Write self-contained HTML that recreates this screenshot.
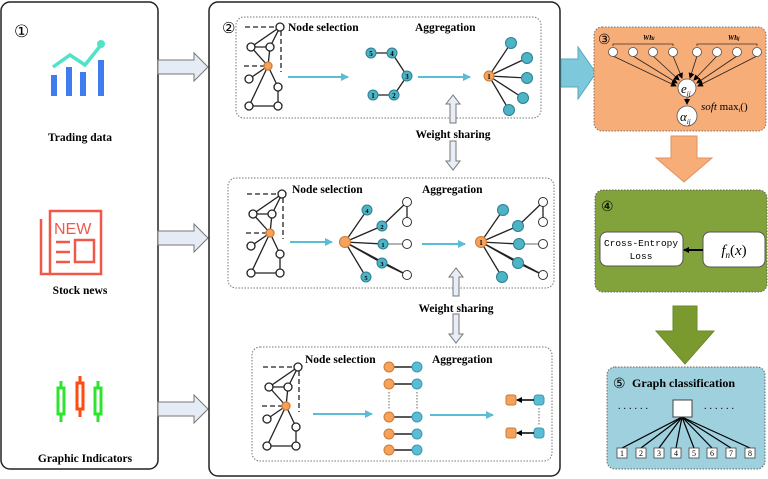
<!DOCTYPE html>
<html><head><meta charset="utf-8"><style>
html,body{margin:0;padding:0;background:#fff;}
svg{display:block;}
text{font-family:"Liberation Serif",serif;}
.b{font-weight:bold;}
</style></head><body>
<svg width="768" height="479" viewBox="0 0 768 479" xmlns="http://www.w3.org/2000/svg">
<defs>
<marker id="ab" markerWidth="8" markerHeight="8" refX="7" refY="4" orient="auto" markerUnits="userSpaceOnUse"><path d="M0,0 L8,4 L0,8 z" fill="#5bbcd6"/></marker>
<marker id="ak" markerWidth="6" markerHeight="6" refX="5" refY="3" orient="auto" markerUnits="userSpaceOnUse"><path d="M0,0 L6,3 L0,6 z" fill="#000"/></marker>
<g id="g1" stroke="#222" stroke-width="1.3" fill="#fff">
<line x1="245" y1="27" x2="278" y2="27" stroke-dasharray="5,3"/>
<line x1="281" y1="31" x2="281" y2="72" stroke-dasharray="5,3"/>
<line x1="244" y1="66" x2="264" y2="66" stroke-dasharray="5,3"/>
<line x1="280" y1="27" x2="251" y2="47"/><line x1="280" y1="27" x2="270" y2="47"/>
<line x1="251" y1="47" x2="270" y2="47"/><line x1="251" y1="47" x2="268" y2="66"/>
<line x1="270" y1="47" x2="268" y2="66"/><line x1="268" y1="66" x2="249" y2="79"/>
<line x1="268" y1="66" x2="278" y2="87"/><line x1="268" y1="66" x2="249" y2="106"/>
<line x1="278" y1="87" x2="278" y2="106"/><line x1="249" y1="106" x2="278" y2="106"/>
<circle cx="280" cy="27" r="4"/><circle cx="251" cy="47" r="4"/><circle cx="270" cy="47" r="4"/>
<circle cx="249" cy="79" r="4"/><circle cx="278" cy="87" r="4"/><circle cx="249" cy="106" r="4"/><circle cx="278" cy="106" r="4"/>
<circle cx="268" cy="66" r="4" fill="#f5a25d" stroke="#d07a30"/>
</g>
<g id="ws" fill="#e8eef8" stroke="#777" stroke-width="1">
<path d="M0,0 L-7,9 L-3,9 L-3,28 L3,28 L3,9 L7,9 z"/>
<path d="M-3,46 L3,46 L3,66 L7,66 L0,75 L-7,66 L-3,66 z"/>
</g>
<path id="ha" d="M0,-7 L36,-7 L36,-14 L50,0 L36,14 L36,7 L0,7 z" fill="#e6ecf6" stroke="#777" stroke-width="1"/>
</defs>

<rect x="1" y="2" width="157" height="467" rx="9" fill="#fff" stroke="#222" stroke-width="1.5"/>
<text x="14" y="37" font-size="17">①</text>
<g fill="#3f7cf0"><rect x="51" y="75" width="6" height="21"/><rect x="66" y="67" width="6" height="29"/><rect x="80" y="72" width="6" height="24"/><rect x="98" y="60" width="6" height="36"/></g>
<polyline points="53,67 70,55 85,65 101,45" fill="none" stroke="#4fe3c8" stroke-width="3.5"/>
<circle cx="101" cy="44" r="4" fill="#4fe3c8"/>
<text x="80" y="141" font-size="11.5" class="b" text-anchor="middle">Trading data</text>
<g fill="none" stroke="#f0584a" stroke-width="2.5">
<rect x="50" y="211" width="51" height="63"/>
<polyline points="41,219 41,274 50,274"/>
<line x1="56" y1="242" x2="70" y2="242"/><line x1="56" y1="252" x2="70" y2="252"/><line x1="56" y1="262" x2="70" y2="262"/>
<rect x="75" y="240" width="19" height="22"/>
</g>
<text x="54" y="234" font-size="16" fill="#f0584a" style="font-family:'Liberation Sans',sans-serif">NEW</text>
<text x="80" y="294" font-size="11.5" class="b" text-anchor="middle">Stock news</text>
<g stroke-width="3" fill="none">
<line x1="61" y1="381" x2="61" y2="422" stroke="#2ee52e"/><rect x="58" y="388" width="6" height="26" stroke="#2ee52e" fill="#fff"/>
<line x1="80" y1="376" x2="80" y2="417" stroke="#ff4a10"/><rect x="77" y="383" width="6" height="26" stroke="#ff4a10" fill="#fff"/>
<line x1="98" y1="381" x2="98" y2="422" stroke="#2ee52e"/><rect x="95" y="388" width="6" height="26" stroke="#2ee52e" fill="#fff"/>
</g>
<text x="85" y="462" font-size="11.5" class="b" text-anchor="middle">Graphic Indicators</text>

<use href="#ha" x="158" y="67"/><use href="#ha" x="158" y="238"/><use href="#ha" x="158" y="409"/>

<rect x="209" y="2" width="351" height="474" rx="9" fill="#fff" stroke="#222" stroke-width="1.5"/>
<text x="222" y="33" font-size="15">②</text>
<rect x="236" y="17" width="305" height="101" rx="8" fill="none" stroke="#777" stroke-dasharray="1.5,1.5"/>
<rect x="228" y="178" width="326" height="110" rx="8" fill="none" stroke="#777" stroke-dasharray="1.5,1.5"/>
<rect x="252" y="347" width="300" height="114" rx="8" fill="none" stroke="#777" stroke-dasharray="1.5,1.5"/>
<g font-size="11.5" class="b">
<text x="288" y="31">Node selection</text><text x="415" y="31">Aggregation</text>
<text x="292" y="193">Node selection</text><text x="422" y="193">Aggregation</text>
<text x="305" y="363">Node selection</text><text x="432" y="363">Aggregation</text>
<text x="453" y="138" text-anchor="middle">Weight sharing</text>
<text x="456" y="312" text-anchor="middle">Weight sharing</text>
</g>
<use href="#ws" x="453" y="95"/>
<use href="#ws" x="456" y="268"/>
<use href="#g1"/>
<use href="#g1" x="2" y="167"/>
<use href="#g1" x="18" y="340"/>
<g stroke="#5bbcd6" stroke-width="2" marker-end="url(#ab)">
<line x1="288" y1="77" x2="348" y2="77"/><line x1="418" y1="77" x2="470" y2="77"/>
<line x1="290" y1="242" x2="332" y2="242"/><line x1="422" y1="244" x2="465" y2="244"/>
<line x1="313" y1="414" x2="372" y2="414"/><line x1="430" y1="415" x2="493" y2="415"/>
</g>
<g stroke="#222" stroke-width="1.3">
<line x1="371" y1="53" x2="392" y2="53"/><line x1="392" y1="53" x2="407" y2="76"/><line x1="407" y1="76" x2="394" y2="95"/><line x1="394" y1="95" x2="373" y2="95"/>
<line x1="489" y1="76" x2="511" y2="43"/><line x1="489" y1="76" x2="527" y2="58"/><line x1="489" y1="76" x2="527" y2="78"/><line x1="489" y1="76" x2="523" y2="98"/><line x1="489" y1="76" x2="509" y2="110"/>
</g>
<g fill="#4fb3c6" stroke="#2a7f90" stroke-width="1">
<circle cx="371" cy="53" r="5"/><circle cx="392" cy="53" r="5"/><circle cx="407" cy="76" r="5"/><circle cx="394" cy="95" r="5"/><circle cx="373" cy="95" r="5"/>
<circle cx="511" cy="43" r="5.5"/><circle cx="527" cy="58" r="5.5"/><circle cx="527" cy="78" r="5.5"/><circle cx="523" cy="98" r="5.5"/><circle cx="509" cy="110" r="5.5"/>
</g>
<circle cx="489" cy="76" r="5" fill="#f5a25d" stroke="#d07a30"/>
<g font-size="7" text-anchor="middle" fill="#000" font-weight="bold">
<text x="371" y="56">5</text><text x="392" y="56">4</text><text x="407" y="79">3</text><text x="394" y="98">2</text><text x="373" y="98">1</text><text x="489" y="79">1</text>
</g>
<g id="st2" stroke="#222" stroke-width="1.3">
<line x1="345" y1="242" x2="367" y2="210"/><line x1="345" y1="242" x2="382" y2="226"/><line x1="382" y1="226" x2="407" y2="202"/><line x1="407" y1="202" x2="407" y2="222"/>
<line x1="345" y1="242" x2="383" y2="244"/><line x1="383" y1="244" x2="407" y2="244" stroke="#888"/>
<line x1="345" y1="242" x2="382" y2="263"/><line x1="345" y1="242" x2="407" y2="275"/><line x1="382" y1="263" x2="407" y2="275"/>
<line x1="345" y1="242" x2="366" y2="277"/>
</g>
<g fill="#fff" stroke="#333" stroke-width="1"><circle cx="407" cy="202" r="4.5"/><circle cx="407" cy="222" r="4.5"/><circle cx="407" cy="244" r="4.5"/><circle cx="407" cy="275" r="4.5"/></g>
<g fill="#4fb3c6" stroke="#2a7f90"><circle cx="367" cy="210" r="5"/><circle cx="382" cy="226" r="5"/><circle cx="383" cy="244" r="5"/><circle cx="382" cy="263" r="5"/><circle cx="366" cy="277" r="5"/></g>
<circle cx="345" cy="242" r="5.5" fill="#f5a25d" stroke="#d07a30"/>
<g font-size="6.5" text-anchor="middle" fill="#000" font-weight="bold">
<text x="367" y="213">4</text><text x="382" y="229">2</text><text x="383" y="247">1</text><text x="382" y="266">3</text><text x="366" y="280">5</text>
</g>
<use href="#st2" x="136" y="0"/>
<g fill="#fff" stroke="#333" stroke-width="1"><circle cx="543" cy="202" r="4.5"/><circle cx="543" cy="222" r="4.5"/><circle cx="543" cy="244" r="4.5"/><circle cx="543" cy="275" r="4.5"/></g>
<g fill="#4fb3c6" stroke="#2a7f90"><circle cx="503" cy="210" r="5.5"/><circle cx="518" cy="226" r="5.5"/><circle cx="519" cy="244" r="5.5"/><circle cx="518" cy="263" r="5.5"/><circle cx="502" cy="277" r="5.5"/></g>
<circle cx="481" cy="242" r="5.5" fill="#f5a25d" stroke="#d07a30"/>
<text x="481" y="245" font-size="7" text-anchor="middle" font-weight="bold">1</text>
<g stroke="#222" stroke-width="1.5">
<line x1="389" y1="367" x2="417" y2="367"/><line x1="389" y1="384" x2="417" y2="384"/><line x1="389" y1="417" x2="417" y2="417"/><line x1="389" y1="434" x2="417" y2="434"/><line x1="389" y1="450" x2="417" y2="450"/>
</g>
<g stroke="#666" stroke-dasharray="1.5,1.5"><line x1="389" y1="392" x2="389" y2="410"/><line x1="417" y1="392" x2="417" y2="410"/><line x1="539" y1="408" x2="539" y2="426"/></g>
<g fill="#f5a25d" stroke="#d07a30"><circle cx="389" cy="367" r="5"/><circle cx="389" cy="384" r="5"/><circle cx="389" cy="417" r="5"/><circle cx="389" cy="434" r="5"/><circle cx="389" cy="450" r="5"/>
<rect x="506" y="395" width="10" height="10" rx="2"/><rect x="506" y="428" width="10" height="10" rx="2"/></g>
<g fill="#5bbcd6" stroke="#3a9ab0"><circle cx="417" cy="367" r="5"/><circle cx="417" cy="384" r="5"/><circle cx="417" cy="417" r="5"/><circle cx="417" cy="434" r="5"/><circle cx="417" cy="450" r="5"/>
<rect x="534" y="395" width="10" height="10" rx="3"/><rect x="534" y="428" width="10" height="10" rx="3"/></g>
<g stroke="#000" stroke-width="1.5" marker-end="url(#ak)"><line x1="534" y1="400" x2="517" y2="400"/><line x1="534" y1="433" x2="517" y2="433"/></g>

<path d="M561,59 L578,59 L578,47 L596,73 L578,99 L578,87 L561,87 z" fill="#7ec8dc" stroke="#5aa7bd"/>

<rect x="594" y="27" width="172" height="104" rx="8" fill="#f7ad78" stroke="#777" stroke-dasharray="1.5,1.5"/>
<text x="598" y="44" font-size="14">③</text>
<g stroke="#333" stroke-width="0.8" fill="none"><polyline points="613,46 613,44 673,44 673,46"/><polyline points="697,46 697,44 757,44 757,46"/></g>
<text x="643" y="40" font-size="7" font-style="italic" class="b">Wh<tspan font-size="5">i</tspan></text>
<text x="728" y="40" font-size="7" font-style="italic" class="b">Wh<tspan font-size="5">j</tspan></text>
<g stroke="#222" stroke-width="0.8" marker-end="url(#ak)">
<line x1="613" y1="56" x2="676" y2="86"/><line x1="633" y1="56" x2="677" y2="83"/><line x1="653" y1="56" x2="679" y2="80"/><line x1="673" y1="56" x2="682" y2="78"/>
<line x1="697" y1="56" x2="690" y2="78"/><line x1="717" y1="56" x2="694" y2="80"/><line x1="737" y1="56" x2="697" y2="83"/><line x1="757" y1="56" x2="698" y2="86"/>
<line x1="687" y1="97" x2="687" y2="104"/>
</g>
<g fill="#fff" stroke="#555" stroke-width="0.8">
<circle cx="613" cy="52" r="4.5"/><circle cx="633" cy="52" r="4.5"/><circle cx="653" cy="52" r="4.5"/><circle cx="673" cy="52" r="4.5"/>
<circle cx="697" cy="52" r="4.5"/><circle cx="717" cy="52" r="4.5"/><circle cx="737" cy="52" r="4.5"/><circle cx="757" cy="52" r="4.5"/>
<circle cx="687" cy="88" r="9"/><circle cx="687" cy="116" r="10"/>
</g>
<text x="681" y="93" font-size="13" font-style="italic">e<tspan font-size="7" dy="3">ij</tspan></text>
<text x="680" y="121" font-size="13" font-style="italic">α<tspan font-size="7" dy="3">ij</tspan></text>
<text x="701" y="110" font-size="11"><tspan font-style="italic">soft</tspan> max<tspan font-size="6" dy="2">i</tspan><tspan dy="-2">()</tspan></text>

<path d="M671,136 L697,136 L697,158 L712,158 L684,182 L656,158 L671,158 z" fill="#f7ad78" stroke="#e09060"/>

<rect x="595" y="190" width="172" height="102" rx="8" fill="#82a23c" stroke="#666" stroke-dasharray="1.5,1.5"/>
<text x="601" y="211" font-size="14">④</text>
<rect x="600" y="232" width="83" height="34" rx="7" fill="#fff" stroke="#555"/>
<text x="641" y="246" font-size="9.5" text-anchor="middle" style="font-family:'Liberation Mono',monospace">Cross-Entropy</text>
<text x="641" y="259" font-size="9.5" text-anchor="middle" style="font-family:'Liberation Mono',monospace">Loss</text>
<rect x="703" y="232" width="62" height="35" rx="7" fill="#fff" stroke="#555"/>
<text x="734" y="255" font-size="15" text-anchor="middle" font-style="italic">f<tspan font-size="9" dy="3">n</tspan><tspan dy="-3" font-style="normal">(</tspan>x<tspan font-style="normal">)</tspan></text>
<line x1="703" y1="250" x2="684" y2="250" stroke="#000" stroke-width="2" marker-end="url(#ak)"/>

<path d="M673,306 L697,306 L697,331 L714,331 L685,364 L656,331 L673,331 z" fill="#7a9a30" stroke="#6a8a28"/>

<rect x="607" y="367" width="158" height="102" rx="8" fill="#9ed0de" stroke="#666" stroke-dasharray="1.5,1.5"/>
<text x="613" y="388" font-size="14">⑤</text>
<text x="632" y="387" font-size="12" class="b">Graph classification</text>
<text x="618" y="409" font-size="10" letter-spacing="3">......</text>
<text x="704" y="409" font-size="10" letter-spacing="3">......</text>
<g stroke="#000" stroke-width="1.2">
<line x1="682" y1="417" x2="622" y2="448"/><line x1="682" y1="417" x2="641" y2="448"/><line x1="682" y1="417" x2="659" y2="448"/><line x1="682" y1="417" x2="676" y2="448"/>
<line x1="682" y1="417" x2="694" y2="448"/><line x1="682" y1="417" x2="712" y2="448"/><line x1="682" y1="417" x2="731" y2="448"/><line x1="682" y1="417" x2="750" y2="448"/>
</g>
<rect x="673" y="400" width="19" height="17" fill="#fff" stroke="#444"/>
<g fill="#fff" stroke="#444" stroke-width="0.8">
<rect x="617" y="448" width="10" height="10"/><rect x="636" y="448" width="10" height="10"/><rect x="654" y="448" width="10" height="10"/><rect x="671" y="448" width="10" height="10"/>
<rect x="689" y="448" width="10" height="10"/><rect x="707" y="448" width="10" height="10"/><rect x="726" y="448" width="10" height="10"/><rect x="745" y="448" width="10" height="10"/>
</g>
<g font-size="8" text-anchor="middle">
<text x="622" y="456">1</text><text x="641" y="456">2</text><text x="659" y="456">3</text><text x="676" y="456">4</text><text x="694" y="456">5</text><text x="712" y="456">6</text><text x="731" y="456">7</text><text x="750" y="456">8</text>
</g>
</svg>
</body></html>
